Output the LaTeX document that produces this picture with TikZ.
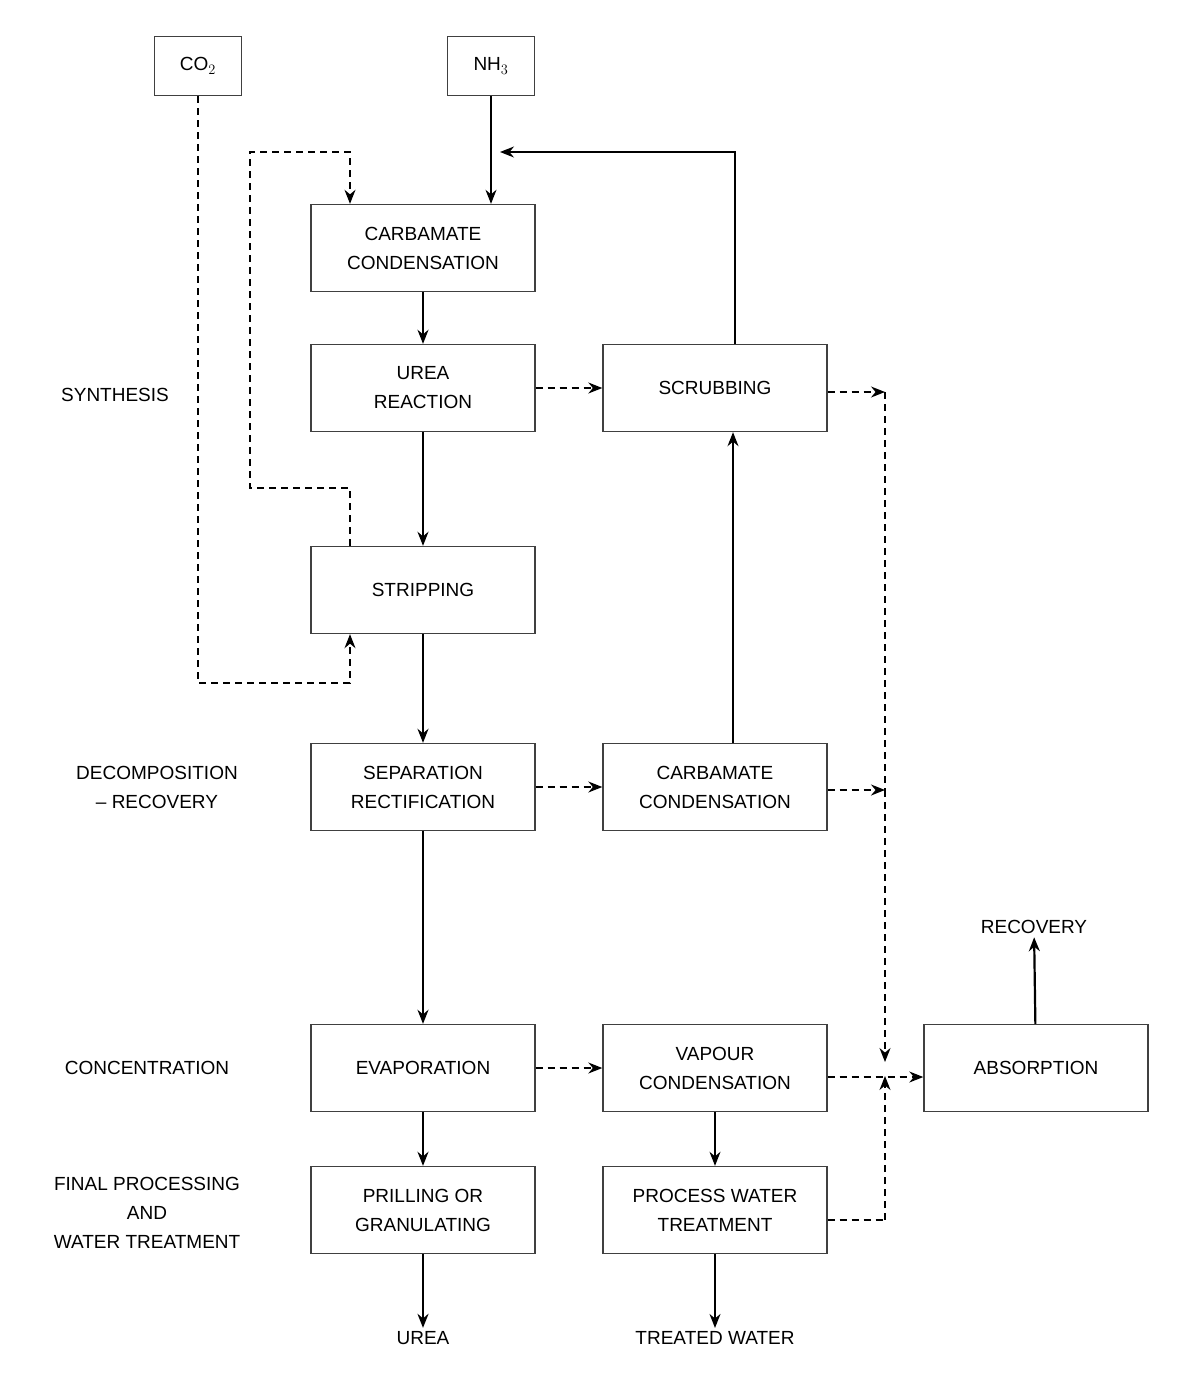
\documentclass[tikz,border=0pt]{standalone}
\usepackage{fontspec}
\setmainfont{Liberation Sans}
\usetikzlibrary{arrows.meta}
\begin{document}
\begin{tikzpicture}[x=1pt,y=-1pt,
 box/.style={draw=black!75,line width=1.4pt,minimum width=224pt,minimum height=87pt,align=center,font=\fontsize{19}{29}\selectfont,inner sep=0pt},
 sbox/.style={draw=black!75,line width=1.4pt,minimum width=87pt,minimum height=59pt,font=\fontsize{19}{23}\selectfont},
 lab/.style={align=center,font=\fontsize{19}{29}\selectfont},
 thick arr/.style={line width=2.2pt,-{Stealth[length=14pt,width=11pt]}},
 thin arr/.style={line width=1.3pt,-{Stealth[length=14pt,width=11pt]}},
 dash arr/.style={line width=1.3pt,dash pattern=on 7pt off 5pt,-{Stealth[length=14pt,width=11pt]}},
 dashline/.style={line width=1.3pt,dash pattern=on 7pt off 5pt}]
\useasboundingbox (0,0) rectangle (1186,1377);
\node[sbox] (co2) at (198,66) {CO$_2$};
\node[sbox] (nh3) at (491,66) {NH$_3$};
\node[box] (cc1) at (423,248) {CARBAMATE\\CONDENSATION};
\node[box] (ur) at (423,388) {UREA\\REACTION};
\node[box] (scr) at (715,388) {SCRUBBING};
\node[box] (str) at (423,590) {STRIPPING};
\node[box] (sep) at (423,787) {SEPARATION\\RECTIFICATION};
\node[box] (cc2) at (715,787) {CARBAMATE\\CONDENSATION};
\node[box] (eva) at (423,1068) {EVAPORATION};
\node[box] (vap) at (715,1068) {VAPOUR\\CONDENSATION};
\node[box] (abs) at (1036,1068) {ABSORPTION};
\node[box] (pri) at (423,1210) {PRILLING OR\\GRANULATING};
\node[box] (pwt) at (715,1210) {PROCESS WATER\\TREATMENT};
\node[lab] (l1) at (115,395) {SYNTHESIS};
\node[lab] (l2) at (157,787) {DECOMPOSITION\\– RECOVERY};
\node[lab] (l3) at (147,1068) {CONCENTRATION};
\node[lab] (l4) at (147,1213) {FINAL PROCESSING\\AND\\WATER TREATMENT};
\node[lab] (rec) at (1034,927) {RECOVERY};
\node[lab] (urea) at (423,1338) {UREA};
\node[lab] (tw) at (715,1338) {TREATED WATER};
\coordinate (j1) at (885,392);
\coordinate (j2) at (885,790);
\coordinate (j3) at (885,1220);
\draw[thick arr] (cc1) -- (ur);
\draw[thick arr] (ur) -- (str);
\draw[thick arr] (str) -- (sep);
\draw[thick arr] (sep) -- (eva);
\draw[thick arr] (eva) -- (pri);
\draw[thick arr] (pri) -- (urea);
\draw[thick arr] (abs) -- (rec);
\draw[thin arr] (nh3) -- (cc1.north -| nh3);
\draw[thin arr] (scr.north -| 735,0) -- (735,152) -- (500,152);
\draw[thin arr] (cc2.north -| 733,0) -- (scr.south -| 733,0);
\draw[thin arr] (vap) -- (pwt);
\draw[thin arr] (pwt) -- (tw);
\draw[dash arr] (str.north -| 350,0) -- (350,488) -- (250,488) -- (250,152) -- (350,152) -- (cc1.north -| 350,0);
\draw[dash arr] (co2) -- (198,683) -- (350,683) -- (str.south -| 350,0);
\draw[dash arr] (ur) -- (scr);
\draw[dash arr] (sep) -- (cc2);
\draw[dash arr] (eva) -- (vap);
\draw[dash arr] (scr.east |- j1) -- (j1);
\draw[dash arr,line width=2pt] (cc2.east |- j2) -- (j2);
\draw[dashline] (j1) -- (j2);
\draw[dash arr] (j2) -- (885,1062);
\draw[dashline] (pwt.east |- j3) -- (j3);
\draw[dash arr] (j3) -- (885,1076);
\draw[dash arr] (vap.east |- 0,1077) -- (abs.west |- 0,1077);
\end{tikzpicture}
\end{document}
